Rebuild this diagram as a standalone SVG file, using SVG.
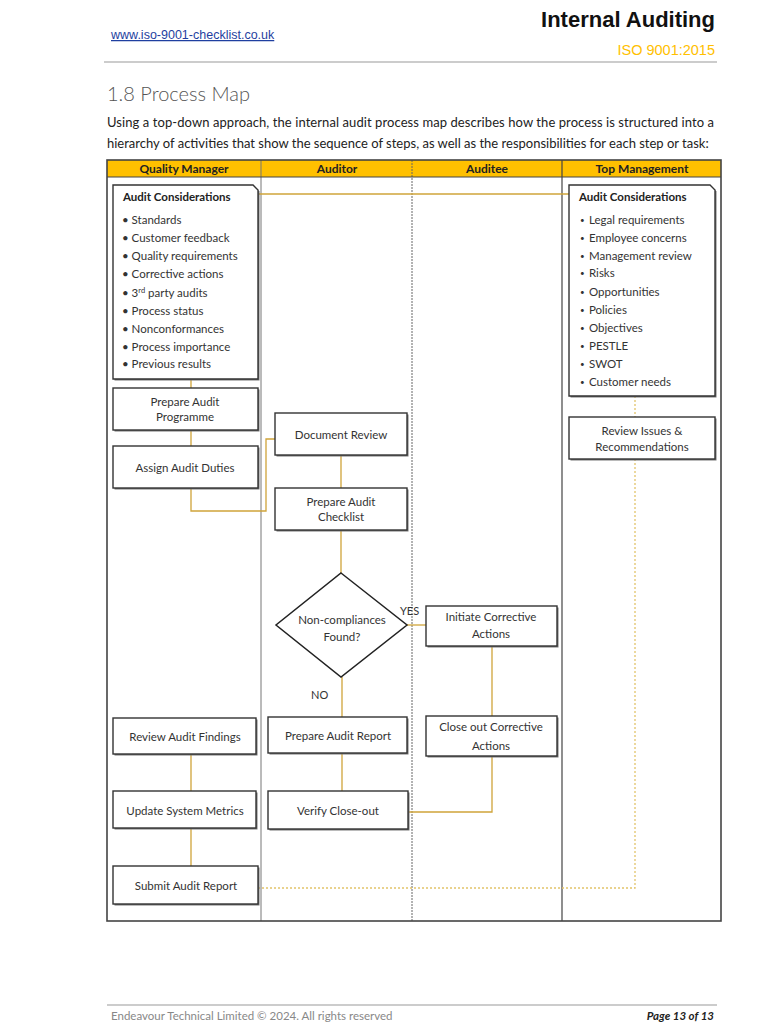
<svg xmlns="http://www.w3.org/2000/svg" width="768" height="1024" viewBox="0 0 768 1024">
<style>
.t{font-family:Lato,"Open Sans","Liberation Sans",sans-serif;fill:#333}
.box{fill:#fff;stroke:#333;stroke-width:1.4}
.sh{fill:#777}
.bt{font-family:Lato,"Open Sans","Liberation Sans",sans-serif;fill:#333;font-size:11.5px;text-anchor:middle}
.li{font-family:Lato,"Open Sans","Liberation Sans",sans-serif;fill:#333;font-size:11.5px}
.hd{font-family:Lato,"Open Sans","Liberation Sans",sans-serif;fill:#222;font-size:12px;font-weight:bold;text-anchor:middle}
.c{fill:none;stroke:#CFA43A;stroke-width:1.3}
.cd{fill:none;stroke:#E2C46A;stroke-width:1.3;stroke-dasharray:2 2}
.sb{font-size:8px}
</style>
<rect width="768" height="1024" fill="#fff"/>
<g id="page-header">
<text x="111" y="39" font-family="Liberation Sans,Arial,sans-serif" font-size="12.5" fill="#1F3FA0" text-decoration="underline">www.iso-9001-checklist.co.uk</text>
<text x="715" y="27" font-family="Liberation Sans,Arial,sans-serif" font-size="22" font-weight="bold" fill="#111" text-anchor="end">Internal Auditing</text>
<text x="715" y="55" font-family="Liberation Sans,Arial,sans-serif" font-size="14.5" fill="#FFC000" text-anchor="end">ISO 9001:2015</text>
<line x1="104" y1="62" x2="717" y2="62" stroke="#bbb" stroke-width="1.3"/>
<text x="107" y="101" class="t" font-size="20" font-weight="300" style="fill:#555">1.8  Process Map</text>
<text x="107" y="127" class="t" font-size="13" textLength="607" lengthAdjust="spacing" style="fill:#222">Using a top-down approach, the internal audit process map describes how the process is structured into a</text>
<text x="107" y="148" class="t" font-size="13" style="fill:#222">hierarchy of activities that show the sequence of steps, as well as the responsibilities for each step or task:</text>
</g>
<g id="lanes">
<rect x="107" y="160" width="614" height="17" fill="#FFC000"/>
<line x1="261" y1="160" x2="261" y2="921" stroke="#777" stroke-width="1"/>
<line x1="412" y1="160" x2="412" y2="921" stroke="#666" stroke-width="1" stroke-dasharray="2 1"/>
<line x1="562" y1="160" x2="562" y2="921" stroke="#444" stroke-width="1.2"/>
<line x1="107" y1="177" x2="721" y2="177" stroke="#444" stroke-width="1"/>
<rect x="107" y="160" width="614" height="761" fill="none" stroke="#444" stroke-width="1.6"/>
<text x="184" y="173" class="hd">Quality Manager</text>
<text x="337" y="173" class="hd">Auditor</text>
<text x="487" y="173" class="hd">Auditee</text>
<text x="642" y="173" class="hd">Top Management</text>
</g>
<g id="connectors">
<line x1="258" y1="194" x2="569" y2="194" class="c"/>
<line x1="191" y1="379" x2="191" y2="388" class="c"/>
<line x1="191" y1="430" x2="191" y2="446" class="c"/>
<polyline points="191,488 191,511 266,511 266,439 275,439" class="c"/>
<line x1="341" y1="455" x2="341" y2="488" class="c"/>
<line x1="341" y1="530" x2="341" y2="573" class="c"/>
<line x1="407" y1="625" x2="426" y2="625" class="c"/>
<line x1="342" y1="677" x2="342" y2="717" class="c"/>
<line x1="342" y1="753" x2="342" y2="791" class="c"/>
<line x1="492" y1="646" x2="492" y2="716" class="c"/>
<polyline points="492,756 492,812 408,812" class="c"/>
<line x1="191" y1="754" x2="191" y2="791" class="c"/>
<line x1="191" y1="828" x2="191" y2="866" class="c"/>
<line x1="635" y1="396" x2="635" y2="417" class="cd"/>
<polyline points="635,459 635,888 258,888" class="cd"/>
<text x="400" y="615" class="t" font-size="11">YES</text>
<text x="311" y="699" class="t" font-size="11">NO</text>
</g>
<g id="qm-considerations">
<path d="M114.5,186.5 H254.5 L259.5,191.5 V380.5 H114.5 Z" class="sh"/>
<path d="M113,185 H253 L258,190 V379 H113 Z" class="box"/>
<text x="123" y="201" class="li" font-weight="bold" style="fill:#222">Audit Considerations</text>
<g class="li">
<text x="122" y="224">• Standards</text>
<text x="122" y="242">• Customer feedback</text>
<text x="122" y="260">• Quality requirements</text>
<text x="122" y="278">• Corrective actions</text>
<text x="122" y="297">• 3<tspan font-size="7.5" dy="-4">rd</tspan><tspan dy="4"> party audits</tspan></text>
<text x="122" y="315">• Process status</text>
<text x="122" y="333">• Nonconformances</text>
<text x="122" y="351">• Process importance</text>
<text x="122" y="368">• Previous results</text>
</g>
</g>
<g id="tm-considerations">
<path d="M570.5,186.5 H711.5 L716.5,191.5 V397.5 H570.5 Z" class="sh"/>
<path d="M569,185 H710 L715,190 V396 H569 Z" class="box"/>
<text x="579" y="201" class="li" font-weight="bold" style="fill:#222">Audit Considerations</text>
<g class="li">
<text x="580" y="223"><tspan class="sb">•</tspan><tspan x="589" dy="1">Legal requirements</tspan></text>
<text x="580" y="241"><tspan class="sb">•</tspan><tspan x="589" dy="1">Employee concerns</tspan></text>
<text x="580" y="259"><tspan class="sb">•</tspan><tspan x="589" dy="1">Management review</tspan></text>
<text x="580" y="276"><tspan class="sb">•</tspan><tspan x="589" dy="1">Risks</tspan></text>
<text x="580" y="295"><tspan class="sb">•</tspan><tspan x="589" dy="1">Opportunities</tspan></text>
<text x="580" y="313"><tspan class="sb">•</tspan><tspan x="589" dy="1">Policies</tspan></text>
<text x="580" y="331"><tspan class="sb">•</tspan><tspan x="589" dy="1">Objectives</tspan></text>
<text x="580" y="349"><tspan class="sb">•</tspan><tspan x="589" dy="1">PESTLE</tspan></text>
<text x="580" y="367"><tspan class="sb">•</tspan><tspan x="589" dy="1">SWOT</tspan></text>
<text x="580" y="385"><tspan class="sb">•</tspan><tspan x="589" dy="1">Customer needs</tspan></text>
</g>
</g>
<g id="prepare-audit-programme">
<rect x="114.5" y="389.5" width="145" height="42" class="sh"/>
<rect x="113" y="388" width="145" height="42" class="box"/>
<text x="185" y="406" class="bt">Prepare Audit</text>
<text x="185" y="421" class="bt">Programme</text>
</g>
<g id="assign-audit-duties">
<rect x="114.5" y="447.5" width="145" height="42" class="sh"/>
<rect x="113" y="446" width="145" height="42" class="box"/>
<text x="185" y="472" class="bt">Assign Audit Duties</text>
</g>
<g id="document-review">
<rect x="276.5" y="414.5" width="132" height="42" class="sh"/>
<rect x="275" y="413" width="132" height="42" class="box"/>
<text x="341" y="439" class="bt">Document Review</text>
</g>
<g id="prepare-audit-checklist">
<rect x="276.5" y="489.5" width="132" height="42" class="sh"/>
<rect x="275" y="488" width="132" height="42" class="box"/>
<text x="341" y="506" class="bt">Prepare Audit</text>
<text x="341" y="521" class="bt">Checklist</text>
</g>
<g id="non-compliances-found">
<polygon points="341,573 407,625 341,677 276,625" fill="#fff" stroke="#222" stroke-width="1.5"/>
<text x="342" y="624" class="bt">Non-compliances</text>
<text x="342" y="641" class="bt">Found?</text>
</g>
<g id="initiate-corrective-actions">
<rect x="427.5" y="607.5" width="131" height="40" class="sh"/>
<rect x="426" y="606" width="131" height="40" class="box"/>
<text x="491" y="621" class="bt">Initiate Corrective</text>
<text x="491" y="638" class="bt">Actions</text>
</g>
<g id="close-out-corrective-actions">
<rect x="427.5" y="717.5" width="131" height="40" class="sh"/>
<rect x="426" y="716" width="131" height="40" class="box"/>
<text x="491" y="731" class="bt">Close out Corrective</text>
<text x="491" y="750" class="bt">Actions</text>
</g>
<g id="review-issues">
<rect x="570.5" y="418.5" width="146" height="42" class="sh"/>
<rect x="569" y="417" width="146" height="42" class="box"/>
<text x="642" y="435" class="bt">Review Issues &amp;</text>
<text x="642" y="451" class="bt">Recommendations</text>
</g>
<g id="review-audit-findings">
<rect x="114.5" y="719.5" width="143" height="36" class="sh"/>
<rect x="113" y="718" width="143" height="36" class="box"/>
<text x="185" y="741" class="bt">Review Audit Findings</text>
</g>
<g id="prepare-audit-report">
<rect x="269.5" y="718.5" width="139" height="36" class="sh"/>
<rect x="268" y="717" width="139" height="36" class="box"/>
<text x="338" y="740" class="bt">Prepare Audit Report</text>
</g>
<g id="update-system-metrics">
<rect x="114.5" y="792.5" width="143" height="37" class="sh"/>
<rect x="113" y="791" width="143" height="37" class="box"/>
<text x="185" y="815" class="bt">Update System Metrics</text>
</g>
<g id="verify-close-out">
<rect x="269.5" y="792.5" width="140" height="38" class="sh"/>
<rect x="268" y="791" width="140" height="38" class="box"/>
<text x="338" y="815" class="bt">Verify Close-out</text>
</g>
<g id="submit-audit-report">
<rect x="114.5" y="867.5" width="145" height="38" class="sh"/>
<rect x="113" y="866" width="145" height="38" class="box"/>
<text x="186" y="890" class="bt">Submit Audit Report</text>
</g>
<g id="page-footer">
<line x1="107" y1="1005" x2="717" y2="1005" stroke="#bbb" stroke-width="1.3"/>
<text x="111" y="1020" class="t" font-size="11.5" style="fill:#888">Endeavour Technical Limited © 2024. All rights reserved</text>
<text x="714" y="1020" class="t" font-size="11.5" font-weight="bold" font-style="italic" text-anchor="end" style="fill:#222">Page 13 of 13</text>
</g>
</svg>
